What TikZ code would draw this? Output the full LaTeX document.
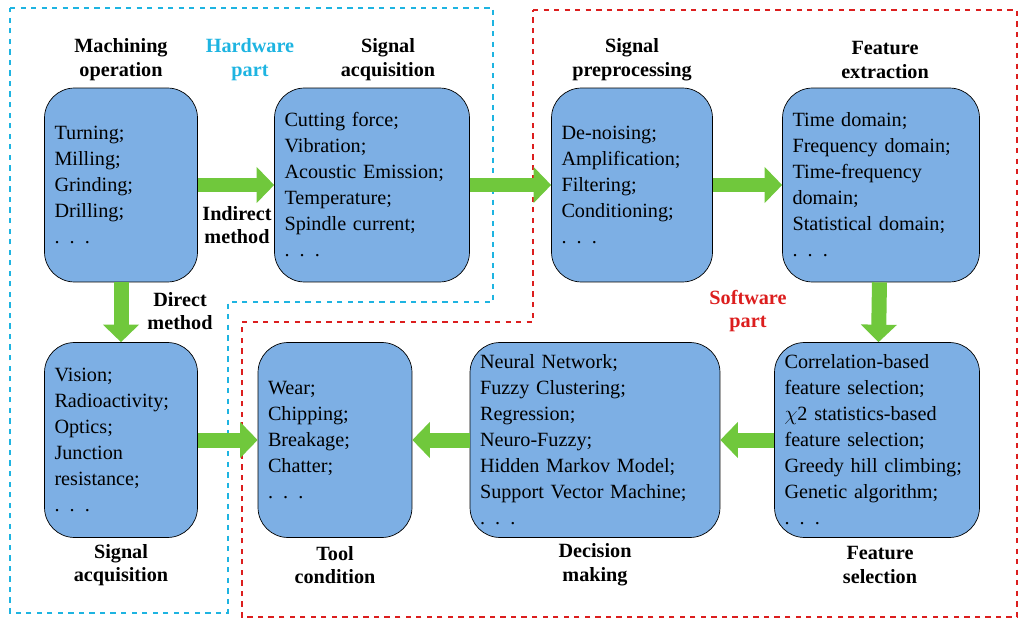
\documentclass[tikz,border=0pt]{standalone}
\usepackage{fontspec}
\setmainfont{Liberation Serif}
\usetikzlibrary{arrows.meta}
\definecolor{boxblue}{RGB}{125,175,228}
\definecolor{arrgreen}{RGB}{112,200,60}
\definecolor{hwcyan}{RGB}{30,180,225}
\definecolor{swred}{RGB}{220,30,30}
\tikzset{
  box/.style={draw=black, fill=boxblue, rounded corners=0.6cm, align=left,
    inner sep=0.2cm, font=\fontsize{11.5}{14.8}\selectfont},
  ttl/.style={align=center, font=\fontsize{11.5}{13.5}\selectfont\bfseries},
  flow/.style={draw=arrgreen, line width=0.3cm,
    -{Triangle[length=0.35cm, width=0.7cm]}}
}
\begin{document}
\begin{tikzpicture}[x=0.02cm, y=-0.02cm]
\useasboundingbox (0,0) rectangle (1024,625);
% parts
\draw[hwcyan, dashed, thick] (10,8) -- (493,8) -- (493,302) -- (228,302) -- (228,613) -- (10,613) -- cycle;
\draw[swred, dashed, thick] (533,10) -- (1017,10) -- (1017,617) -- (242,617) -- (242,322) -- (533,322) -- cycle;
\node[ttl, text=hwcyan] (hw) at (250,60) {Hardware\\part};
\node[ttl, text=swred] (sw) at (748,311) {Software\\part};
% boxes, top row
\node[box, text width=2.66cm, minimum height=3.88cm] (mach) at (121,185) {Turning;\\Milling;\\Grinding;\\Drilling;\\. . .};
\node[box, text width=3.5cm, minimum height=3.88cm] (acq) at (372,185) {Cutting force;\\Vibration;\\Acoustic Emission;\\Temperature;\\Spindle current;\\. . .};
\node[box, text width=2.82cm, minimum height=3.88cm] (pre) at (632,185) {De-noising;\\Amplification;\\Filtering;\\Conditioning;\\. . .};
\node[box, text width=3.54cm, minimum height=3.88cm] (feat) at (881,185) {Time domain;\\Frequency domain;\\Time-frequency\\domain;\\Statistical domain;\\. . .};
% boxes, bottom row
\node[box, text width=2.66cm, minimum height=3.9cm] (acq2) at (121,440) {Vision;\\Radioactivity;\\Optics;\\Junction\\resistance;\\. . .};
\node[box, text width=2.68cm, minimum height=3.9cm] (tool) at (335,440) {Wear;\\Chipping;\\Breakage;\\Chatter;\\. . .};
\node[box, text width=4.6cm, minimum height=3.9cm] (dec) at (595,440) {Neural Network;\\Fuzzy Clustering;\\Regression;\\Neuro-Fuzzy;\\Hidden Markov Model;\\Support Vector Machine;\\. . .};
\node[box, text width=3.7cm, minimum height=3.9cm] (sel) at (877,440) {Correlation-based\\feature selection;\\$\chi$2 statistics-based\\feature selection;\\Greedy hill climbing;\\Genetic algorithm;\\. . .};
% titles
\node[ttl] (t1) at (121,60) {Machining\\operation};
\node[ttl] (t2) at (388,60) {Signal\\acquisition};
\node[ttl] (t3) at (632,60) {Signal\\preprocessing};
\node[ttl] (t4) at (885,60) {Feature\\extraction};
\node[ttl] (t5) at (121,565) {Signal\\acquisition};
\node[ttl] (t6) at (335,565) {Tool\\condition};
\node[ttl] (t7) at (595,565) {Decision\\making};
\node[ttl] (t8) at (880,565) {Feature\\selection};
\node[ttl] (ind) at (237,225) {Indirect\\method};
\node[ttl] (dir) at (180,311) {Direct\\method};
% flow
\draw[flow] (mach) -- (acq);
\draw[flow] (acq) -- (pre);
\draw[flow] (pre) -- (feat);
\draw[flow] (feat) -- (sel);
\draw[flow] (sel) -- (dec);
\draw[flow] (dec) -- (tool);
\draw[flow] (acq2) -- (tool);
\draw[flow] (mach) -- (acq2);
\end{tikzpicture}
\end{document}
